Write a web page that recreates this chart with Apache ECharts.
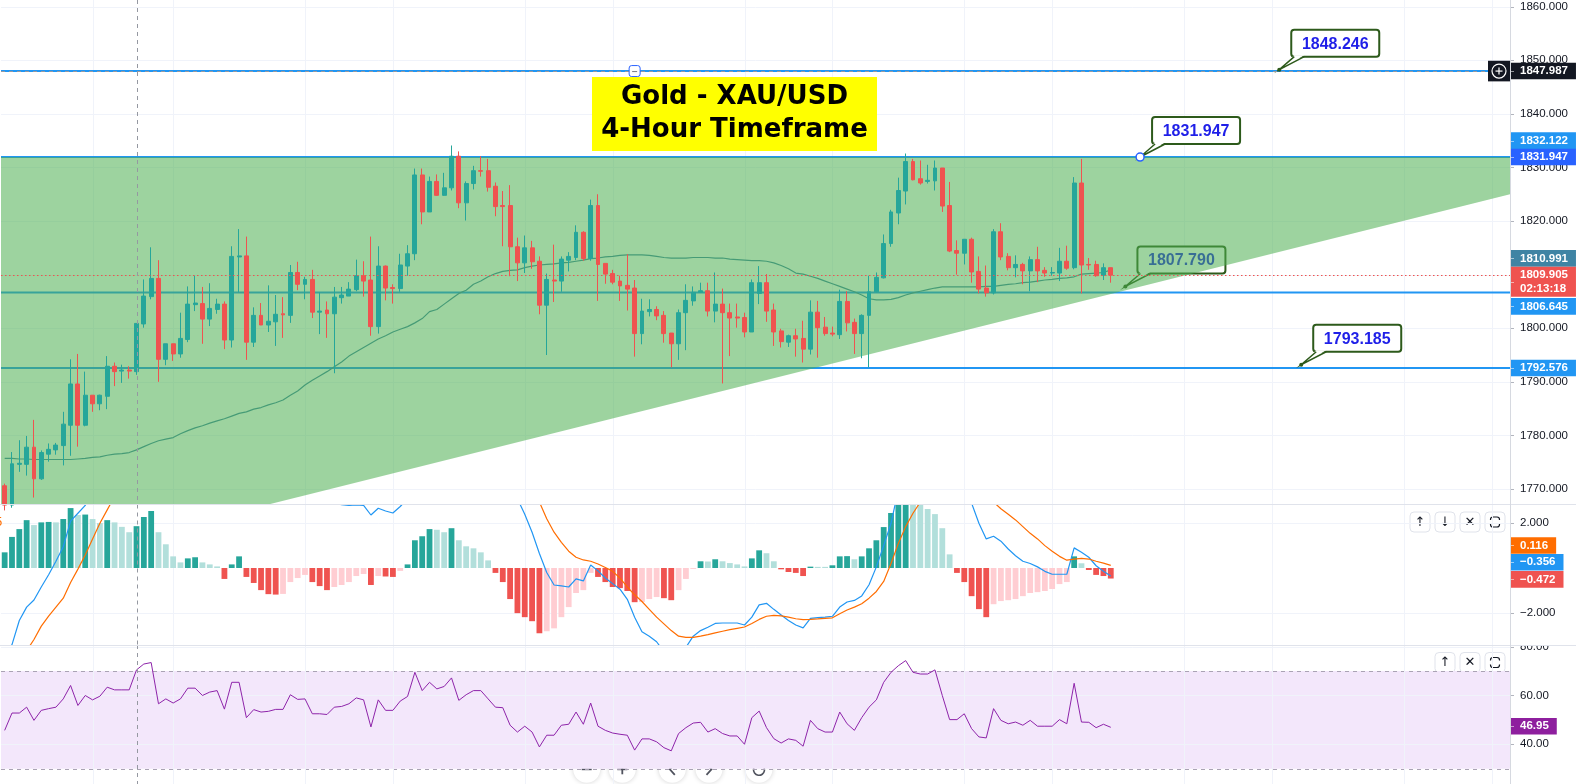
<!DOCTYPE html>
<html>
<head>
<meta charset="utf-8">
<title>Gold - XAU/USD 4-Hour Timeframe</title>
<script src="https://cdn.jsdelivr.net/npm/echarts@6.0.0/dist/echarts.min.js"></script>
<style>
  html, body { margin: 0; padding: 0; background: #ffffff; }
  #chart { width: 1576px; height: 784px; }
</style>
</head>
<body>
<div id="chart"></div>
<script>
// ---- data ----
// 4h candles, [open, close, low, high]
const candles = [
  [1770.6,1767.0,1766.0,1771.0],[1767.0,1774.7,1766.5,1776.9],[1774.6,1774.8,1773.2,1779.1],[1774.6,1777.8,1772.5,1779.9],[1777.8,1771.9,1768.4,1782.9],
  [1771.9,1776.8,1771.7,1777.2],[1776.5,1777.4,1775.1,1778.5],[1777.3,1778.2,1776.4,1778.6],[1778.1,1782.1,1774.4,1784.4],[1781.9,1789.6,1776.2,1794.2],
  [1789.6,1781.9,1777.9,1795.2],[1781.9,1787.5,1781.7,1791.9],[1787.5,1785.9,1784.4,1787.5],[1785.9,1787.5,1784.7,1787.6],[1787.3,1792.9,1784.9,1794.8],
  [1792.9,1791.9,1789.2,1793.6],[1792.0,1792.2,1789.8,1793.2],[1792.2,1792.0,1790.6,1792.9],[1791.9,1800.9,1791.3,1800.9],[1800.8,1806.0,1800.1,1809.1],
  [1805.9,1809.3,1805.4,1815.1],[1809.3,1794.2,1790.0,1812.7],[1794.2,1797.1,1793.1,1797.1],[1797.1,1795.2,1793.9,1797.1],[1795.2,1798.1,1794.5,1802.9],
  [1797.9,1804.5,1797.4,1807.8],[1804.4,1804.7,1803.2,1809.8],[1804.6,1801.7,1797.1,1807.7],[1801.7,1803.7,1800.4,1808.4],[1803.5,1804.5,1802.7,1805.5],
  [1804.5,1797.8,1796.1,1805.0],[1797.8,1813.4,1796.4,1815.3],[1813.3,1813.5,1806.7,1818.5],[1813.5,1797.4,1794.1,1817.1],[1797.4,1802.4,1796.5,1803.9],
  [1802.4,1800.6,1800.6,1804.7],[1800.6,1801.3,1799.3,1808.0],[1801.2,1802.6,1796.7,1806.2],[1802.7,1802.5,1798.2,1805.8],[1802.4,1810.4,1801.0,1811.8],
  [1810.4,1808.2,1807.1,1812.4],[1808.2,1809.1,1805.4,1809.6],[1809.1,1803.0,1801.9,1810.9],[1803.0,1803.2,1798.9,1806.7],[1803.4,1802.7,1798.2,1805.0],
  [1802.7,1805.8,1791.6,1807.7],[1805.7,1806.2,1804.6,1807.7],[1806.0,1807.3,1806.0,1808.6],[1807.2,1809.8,1806.9,1812.8],[1809.8,1808.8,1805.9,1812.5],
  [1809.0,1800.3,1798.6,1817.1],[1800.3,1811.6,1799.0,1815.3],[1811.6,1807.5,1805.2,1811.7],[1807.6,1807.4,1804.6,1808.2],[1807.4,1811.8,1806.8,1813.9],
  [1811.6,1813.9,1809.8,1815.5],[1813.9,1828.6,1812.7,1829.8],[1828.6,1821.7,1819.4,1829.8],[1821.7,1827.4,1821.7,1828.3],[1827.4,1824.8,1824.7,1828.7],
  [1824.8,1826.2,1824.7,1829.0],[1826.2,1832.1,1825.7,1834.1],[1832.1,1823.4,1822.4,1833.0],[1823.4,1827.0,1820.1,1827.4],[1827.0,1829.4,1825.9,1830.3],
  [1829.4,1829.3,1828.3,1832.1],[1829.4,1826.3,1825.5,1831.6],[1826.5,1822.7,1820.9,1827.2],[1822.9,1822.7,1815.3,1825.6],[1822.9,1815.2,1809.7,1826.7],
  [1815.2,1812.2,1808.8,1816.9],[1812.2,1815.0,1810.3,1817.3],[1815.0,1812.4,1811.1,1816.3],[1812.5,1804.3,1802.6,1813.4],[1804.3,1809.1,1795.0,1810.2],
  [1809.0,1808.8,1804.9,1815.6],[1808.8,1812.9,1806.8,1813.4],[1812.7,1813.4,1810.6,1814.2],[1813.2,1817.9,1812.7,1819.2],[1817.9,1813.0,1812.6,1818.1],
  [1813.0,1822.9,1812.6,1824.0],[1822.9,1811.9,1805.1,1825.0],[1812.1,1810.1,1808.3,1812.1],[1810.2,1808.6,1808.2,1810.9],[1808.8,1807.9,1805.1,1809.8],
  [1808.0,1807.3,1803.3,1813.8],[1807.5,1799.0,1794.7,1809.0],[1799.0,1803.2,1797.0,1805.5],[1803.1,1803.5,1802.2,1805.4],[1803.5,1802.3,1801.5,1804.1],
  [1802.4,1799.0,1797.3,1803.2],[1799.1,1797.1,1792.7,1799.1],[1797.1,1802.9,1794.1,1803.5],[1802.9,1805.2,1795.9,1808.2],[1805.1,1806.7,1804.2,1807.8],
  [1806.7,1807.0,1806.7,1808.5],[1807.0,1803.2,1802.2,1808.5],[1803.2,1804.5,1801.1,1810.4],[1804.5,1802.9,1789.7,1807.4],[1802.9,1801.9,1794.8,1804.6],
  [1802.1,1801.9,1800.1,1804.6],[1802.0,1799.3,1798.3,1802.9],[1799.3,1808.5,1799.3,1809.1],[1806.5,1808.5,1804.5,1811.6],[1808.5,1803.2,1801.2,1810.1],
  [1803.4,1799.3,1796.7,1804.6],[1799.5,1797.5,1796.4,1799.9],[1797.4,1798.6,1796.5,1798.8],[1798.6,1798.0,1794.7,1799.9],[1798.1,1796.1,1793.6,1801.4],
  [1796.1,1803.0,1795.1,1805.2],[1803.0,1800.1,1794.5,1805.1],[1800.2,1799.0,1798.6,1802.1],[1799.1,1798.9,1798.5,1800.3],[1798.8,1805.0,1798.0,1807.2],
  [1805.0,1801.0,1799.4,1806.9],[1801.1,1799.0,1795.2,1801.8],[1799.0,1802.4,1794.4,1802.6],[1802.4,1806.8,1792.7,1809.8],[1806.8,1809.5,1806.7,1810.4],
  [1809.4,1815.8,1809.3,1817.5],[1815.8,1821.7,1815.2,1822.1],[1821.5,1825.7,1819.4,1828.1],[1825.6,1831.1,1823.1,1832.6],[1831.1,1827.7,1827.6,1831.6],
  [1827.9,1827.1,1826.8,1831.3],[1827.4,1827.6,1827.0,1830.5],[1827.5,1829.9,1825.7,1831.3],[1829.9,1822.8,1821.7,1829.9],[1822.9,1814.4,1814.2,1827.3],
  [1814.5,1814.0,1810.0,1816.4],[1814.0,1816.6,1811.9,1816.6],[1816.6,1810.5,1808.5,1816.9],[1810.6,1807.3,1806.5,1813.4],[1807.5,1806.6,1805.9,1811.7],
  [1806.6,1818.0,1806.3,1818.5],[1818.0,1813.3,1812.7,1819.6],[1813.4,1811.3,1810.8,1814.0],[1811.3,1811.9,1809.5,1813.6],[1811.9,1810.7,1808.2,1812.2],
  [1810.7,1812.8,1806.9,1813.4],[1812.8,1810.7,1808.6,1815.2],[1810.8,1810.3,1809.6,1811.4],[1810.3,1810.4,1809.8,1811.4],[1810.3,1812.5,1808.8,1815.0],
  [1812.5,1811.2,1810.9,1815.4],[1811.3,1827.1,1811.0,1828.2],[1827.1,1811.8,1806.5,1831.6],[1811.9,1811.8,1810.9,1813.1],[1811.9,1809.8,1809.6,1812.6],
  [1809.9,1811.3,1809.0,1812.1],[1811.3,1809.905,1808.5,1811.3]
];

// moving average drawn on the price pane
const movingAvg = [
  1775.7,1775.7,1775.6,1775.6,1775.5,1775.5,1775.5,1775.5,1775.5,1775.5,
  1775.6,1775.7,1775.9,1776.0,1776.3,1776.5,1776.6,1776.8,1777.3,1777.9,
  1778.5,1779.0,1779.3,1779.6,1780.3,1780.9,1781.4,1781.8,1782.3,1782.7,
  1783.1,1783.6,1784.1,1784.4,1784.9,1785.2,1785.7,1786.1,1786.6,1787.5,
  1788.3,1789.4,1790.3,1791.1,1791.9,1792.8,1793.7,1794.8,1795.6,1796.4,
  1797.2,1798.0,1798.6,1799.3,1799.8,1800.3,1801.0,1801.8,1803.1,1803.5,
  1804.5,1805.5,1806.5,1807.1,1808.2,1808.8,1809.6,1810.2,1810.6,1810.8,
  1810.9,1811.3,1811.6,1811.8,1811.9,1812.0,1812.2,1812.3,1812.5,1812.7,
  1813.0,1813.1,1813.3,1813.4,1813.6,1813.7,1813.7,1813.7,1813.6,1813.4,
  1813.2,1813.1,1813.1,1813.1,1813.2,1813.2,1813.2,1813.1,1813.1,1812.9,
  1812.8,1812.7,1812.6,1812.6,1812.5,1812.2,1811.7,1811.1,1810.3,1810.1,
  1809.7,1809.3,1808.8,1808.3,1807.8,1807.3,1806.8,1806.2,1805.5,1805.3,
  1805.3,1805.4,1805.7,1806.2,1806.6,1806.9,1807.2,1807.5,1807.7,1807.7,
  1807.7,1807.7,1807.7,1807.7,1807.8,1807.8,1808.0,1808.2,1808.3,1808.5,
  1808.6,1808.8,1809.0,1809.1,1809.3,1809.4,1809.6,1810.1,1810.2,1810.3,
  1810.4,1810.9
];

// MACD pane
const macdHist = [
  0.70,1.39,1.74,2.14,1.92,2.04,2.06,2.04,2.19,2.68,
  2.37,2.39,2.19,2.01,2.14,2.04,1.84,1.60,1.87,2.28,
  2.55,1.60,1.06,0.52,0.25,0.43,0.48,0.25,0.16,0.07,
  -0.49,0.16,0.52,-0.40,-0.67,-0.99,-1.17,-1.19,-1.16,-0.63,
  -0.45,-0.31,-0.63,-0.81,-0.99,-0.85,-0.76,-0.63,-0.36,-0.27,
  -0.76,-0.36,-0.38,-0.40,-0.13,0.16,1.24,1.42,1.74,1.71,
  1.60,1.78,1.24,0.97,0.88,0.70,0.34,-0.22,-0.63,-1.39,
  -2.02,-2.20,-2.38,-2.92,-2.83,-2.70,-2.20,-1.75,-1.12,-0.99,
  -0.22,-0.40,-0.63,-0.85,-0.90,-1.03,-1.53,-1.52,-1.39,-1.30,
  -1.35,-1.44,-0.99,-0.49,-0.04,0.30,0.29,0.39,0.30,0.22,
  0.16,0.07,0.43,0.79,0.66,0.30,-0.06,-0.18,-0.22,-0.36,
  0.06,0.05,0.05,0.12,0.52,0.53,0.39,0.52,0.88,1.24,
  1.83,2.46,3.05,3.35,3.25,2.95,2.64,2.41,1.78,0.61,
  -0.22,-0.63,-1.26,-1.84,-2.20,-1.62,-1.48,-1.44,-1.39,-1.26,
  -1.12,-1.08,-1.03,-0.94,-0.72,-0.63,0.52,0.21,-0.09,-0.31,
  -0.36,-0.472
];
const macdLine = [
  -3.9,-3.43,-2.35,-1.75,-1.43,-0.85,-0.3,0.3,0.95,2.1,
  2.45,2.8,3.5,4.0,4.75,5.25,5.45,5.55,6.15,7.0,
  7.65,7.0,6.6,6.1,5.9,6.1,6.2,5.95,5.85,5.75,
  5.05,5.65,5.95,4.95,4.55,4.0,3.7,3.5,3.4,3.8,
  3.9,3.95,3.45,3.15,3.05,2.9,2.83,2.8,2.82,2.8,
  2.37,2.67,2.55,2.46,2.75,3.1,4.4,4.85,5.55,5.8,
  6.0,6.5,6.2,6.05,6.1,6.0,5.65,5.05,4.45,3.4,
  3.1,2.4,1.6,0.65,-0.2,-0.76,-0.8,-0.85,-0.49,-0.58,
  0.13,-0.13,-0.45,-0.7,-0.95,-1.4,-2.2,-2.85,-3.05,-3.3,
  -3.75,-4.2,-4.0,-3.55,-3.05,-2.8,-2.65,-2.48,-2.46,-2.46,
  -2.46,-2.55,-2.2,-1.65,-1.58,-1.85,-2.1,-2.35,-2.55,-2.68,
  -2.25,-2.22,-2.2,-2.16,-1.75,-1.52,-1.45,-1.25,-0.75,0.05,
  1.0,2.0,3.5,5.2,5.7,5.9,5.85,5.8,5.3,4.4,
  3.6,3.2,2.9,2.0,1.3,1.42,1.2,0.85,0.55,0.3,
  0.2,0.05,-0.15,-0.28,-0.28,-0.28,0.9,0.7,0.48,0.1,
  -0.15,-0.356
];
const signalLine = [
  -4.9,-4.5,-4.1,-3.7,-3.2,-2.6,-2.15,-1.75,-1.35,-0.65,
  -0.05,0.58,1.3,2.0,2.6,3.2,3.6,3.95,4.3,4.7,
  5.1,5.4,5.55,5.6,5.62,5.65,5.7,5.7,5.7,5.68,
  5.55,5.5,5.45,5.35,5.2,5.0,4.85,4.7,4.55,4.45,
  4.35,4.25,4.1,3.95,3.9,3.75,3.6,3.45,3.2,3.1,
  3.05,2.98,2.95,2.84,2.87,2.95,3.15,3.45,3.8,4.1,
  4.4,4.7,4.95,5.1,5.2,5.3,5.3,5.25,5.1,4.8,
  4.4,3.95,3.45,2.95,2.2,1.6,1.15,0.75,0.48,0.36,
  0.3,0.18,0.02,-0.15,-0.45,-0.85,-1.2,-1.5,-1.85,-2.2,
  -2.5,-2.8,-3.05,-3.1,-3.1,-3.05,-2.98,-2.9,-2.83,-2.76,
  -2.7,-2.64,-2.48,-2.3,-2.16,-2.12,-2.14,-2.2,-2.27,-2.31,
  -2.3,-2.28,-2.25,-2.23,-2.05,-1.88,-1.75,-1.6,-1.35,-1.05,
  -0.6,0.2,1.1,1.85,2.45,2.95,3.2,3.4,3.5,3.55,
  3.55,3.5,3.4,3.25,3.1,2.95,2.65,2.4,2.15,1.85,
  1.55,1.3,1.0,0.75,0.52,0.35,0.4,0.43,0.4,0.3,
  0.22,0.116
];

// RSI pane
const rsiLine = [
  45.7,52.8,52.8,55.2,49.8,53.9,54.6,55.2,58.6,64.1,
  55.9,60.0,58.2,59.7,63.4,62.3,62.3,62.3,70.5,72.9,
  73.5,56.6,58.6,56.9,58.6,63.0,63.0,60.0,61.4,62.0,
  54.4,65.4,65.4,50.9,54.2,53.2,53.5,54.3,54.3,60.3,
  58.4,58.6,52.5,52.5,52.2,55.2,55.5,56.6,59.0,58.2,
  47.1,58.2,53.9,53.9,57.7,59.6,69.5,62.0,65.4,62.7,
  63.7,67.2,58.0,60.3,62.0,62.0,58.6,55.2,55.0,47.8,
  45.0,47.4,45.0,38.9,43.7,43.7,47.8,48.2,53.2,48.2,
  56.9,47.4,45.7,44.6,44.1,43.7,37.6,42.2,42.2,41.0,
  38.6,37.3,44.4,46.8,48.7,49.0,45.0,46.4,44.4,43.4,
  43.4,40.0,50.9,53.6,46.8,42.3,40.5,42.2,41.6,39.2,
  49.8,46.4,45.0,45.0,53.2,48.4,45.7,50.9,55.2,58.2,
  65.4,69.5,72.2,74.3,69.5,68.8,68.8,70.5,60.0,50.1,
  50.1,52.5,46.4,43.0,42.6,54.6,49.8,48.4,49.1,47.8,
  49.8,47.4,47.4,47.4,50.1,48.4,65.0,49.1,49.0,46.8,
  48.2,46.95
];
const rsiBand = [30, 70];

// scale ticks
const priceTicks = [1770, 1780, 1790, 1800, 1810, 1820, 1830, 1840, 1850, 1860];
const macdTicks = [2, -2];
const rsiTicks = [80, 60, 40];
const dayLines = [12, 23, 41, 53, 71, 83, 101, 113, 131, 143, 161, 173, 191, 203];

// drawings: horizontal levels, ascending triangle, callouts
const levelLines = [1847.987, 1831.947, 1806.645, 1792.576];
const triangleTop = 1831.947;
const trendLine = [[-5, 1753.1], [211, 1826.9]];
const callouts = [[174, 1848.246], [155, 1831.947], [153, 1807.790], [177, 1793.185]];
const lineHandle = [86, 1847.987];
const crossIndex = 18;
const crossPrice = 1847.987;
const lastPrice = 1809.905;
const barCountdown = '02:13:18';

// price scale badges
const priceBadges = [1847.987, 1832.122, 1831.947, 1810.991, 1809.905, 1806.645, 1792.576];
const macdBadges = [0.116, -0.356, -0.472];
const rsiBadges = [46.95];

// ---- chart ----
const UP = '#26a69a', DOWN = '#ef5350';
const AXIS_FONT = '11.5px "Liberation Sans", Arial, sans-serif';
const BADGE_FONT = 'bold 11.5px "Liberation Sans", Arial, sans-serif';
const slots = Array.from({ length: 206 }, (_, i) => String(i));
const fmt = (v, d) => (v < 0 ? '\u2212' : '') + Math.abs(v).toFixed(d);

const priceBadgeLook = [
  { fill: '#131722', shift: 0 },
  { fill: '#2196f3', shift: -15.5 },
  { fill: '#2962ff', shift: 0 },
  { fill: '#3f84a4', shift: -11 },
  { fill: '#ef5350', shift: 6.6, countdown: true },
  { fill: '#2196f3', shift: 13.8 },
  { fill: '#2196f3', shift: 0 }
];
const macdBadgeLook = [
  { fill: '#ff6d00', shift: -19.9 },
  { fill: '#2196f3', shift: -13.7 },
  { fill: '#ef5350', shift: 0.8 }
];
const rsiBadgeLook = [{ fill: '#8e1f9e', shift: -1 }];

function hGrid(params, api) {
  const cs = params.coordSys;
  const y = Math.round(api.coord([0, api.value(1)])[1]) + 0.5;
  return { type: 'line', shape: { x1: cs.x, y1: y, x2: cs.x + cs.width, y2: y },
    style: { stroke: '#f0f3fa', lineWidth: 1 } };
}
function vGrid(params, api) {
  const cs = params.coordSys;
  const x = Math.round(api.coord([api.value(0), 0])[0]) + 0.5;
  return { type: 'line', shape: { x1: x, y1: cs.y, x2: x, y2: cs.y + cs.height },
    style: { stroke: '#f0f3fa', lineWidth: 1 } };
}
function crossV(params, api) {
  const cs = params.coordSys;
  const x = Math.round(api.coord([api.value(0), 0])[0]) + 0.5;
  return { type: 'line', shape: { x1: x, y1: cs.y, x2: x, y2: cs.y + cs.height },
    style: { stroke: '#9598a1', lineWidth: 1, lineDash: [4, 4] } };
}
function tickLabels(decimals) {
  return function (params, api) {
    const cs = params.coordSys;
    const v = api.value(1);
    const y = api.coord([0, v])[1];
    const ax = cs.x + cs.width;
    const yy = Math.round(y) + 0.5;
    return {
      type: 'group',
      clipPath: { type: 'rect', shape: { x: ax, y: cs.y, width: 80, height: cs.height } },
      children: [
        { type: 'line', shape: { x1: ax, y1: yy, x2: ax + 4, y2: yy }, style: { stroke: '#b2b5be', lineWidth: 1 } },
        { type: 'text', style: { x: ax + 10, y: y, text: fmt(v, decimals), font: AXIS_FONT, fill: '#131722',
          align: 'left', verticalAlign: 'middle', textAlign: 'left', textVerticalAlign: 'middle' } }
      ]
    };
  };
}
function badges(looks, decimals) {
  return function (params, api) {
    const cs = params.coordSys;
    const ax = cs.x + cs.width;
    const v = api.value(1);
    const look = looks[params.dataIndex];
    const y = api.coord([0, v])[1] + look.shift;
    const two = !!look.countdown;
    const text = two ? fmt(v, decimals) + '\n' + barCountdown : fmt(v, decimals);
    return {
      type: 'group',
      children: [
        { type: 'text', style: { x: ax, y: y, text: text, font: BADGE_FONT, fill: '#ffffff',
          align: 'left', verticalAlign: 'middle', textAlign: 'left', textVerticalAlign: 'middle',
          lineHeight: two ? 14.5 : 13, backgroundColor: look.fill,
          padding: two ? [0.5, 8, 0.5, 10] : [2, 8, 1.6, 10] } },
        { type: 'line', shape: { x1: ax, y1: Math.round(y) + 0.5, x2: ax + 4, y2: Math.round(y) + 0.5 },
          style: { stroke: 'rgba(255,255,255,0.55)', lineWidth: 1 } }
      ]
    };
  };
}
function renderLevel(params, api) {
  const cs = params.coordSys;
  const y = api.coord([0, api.value(1)])[1];
  return { type: 'line', shape: { x1: cs.x, y1: y, x2: cs.x + cs.width, y2: y },
    style: { stroke: '#2196f3', lineWidth: 2 } };
}
function renderCallout(params, api) {
  const p = api.coord([api.value(0), api.value(1)]);
  const bx = p[0] + 12, by = p[1] - 40, bw = 88, bh = 27;
  const ink = '#2d5a1b';
  return {
    type: 'group',
    children: [
      { type: 'rect', shape: { x: bx, y: by, width: bw, height: bh, r: 3 }, style: { fill: '#ffffff', stroke: ink, lineWidth: 2 } },
      { type: 'polygon', shape: { points: [[p[0], p[1]], [bx + 3, by + bh - 1.5], [bx + 13, by + bh - 1.5]] }, style: { fill: '#ffffff' } },
      { type: 'polyline', shape: { points: [[bx + 3, by + bh], [p[0], p[1]], [bx + 13, by + bh]] }, style: { stroke: ink, lineWidth: 1.5, fill: null } },
      { type: 'circle', shape: { cx: p[0], cy: p[1], r: 2 }, style: { fill: ink } },
      { type: 'text', style: { x: bx + bw / 2, y: by + bh / 2 + 1, text: api.value(1).toFixed(3),
        font: 'bold 16px "Liberation Sans", Arial, sans-serif', fill: '#1f1fe8',
        align: 'center', verticalAlign: 'middle', textAlign: 'center', textVerticalAlign: 'middle' } }
    ]
  };
}
function renderTriangle(params, api) {
  const cs = params.coordSys;
  const a = api.coord([trendLine[0][0], triangleTop]);
  const b = api.coord([trendLine[1][0], triangleTop]);
  const c = api.coord(trendLine[1]);
  const d = api.coord(trendLine[0]);
  return {
    type: 'group',
    clipPath: { type: 'rect', shape: { x: cs.x, y: cs.y, width: cs.width, height: cs.height } },
    children: [{ type: 'polygon', shape: { points: [a, b, c, d] }, style: { fill: 'rgba(76,175,80,0.55)' } }]
  };
}
function renderPriceOverlay(params, api) {
  const cs = params.coordSys;
  const yl = Math.round(api.coord([0, lastPrice])[1]) + 0.5;
  const yc = Math.round(api.coord([0, crossPrice])[1]) + 0.5;
  const x = Math.round(api.coord([crossIndex, 0])[0]) + 0.5;
  return {
    type: 'group',
    children: [
      { type: 'line', shape: { x1: cs.x, y1: yl, x2: cs.x + cs.width, y2: yl }, style: { stroke: '#ef5350', lineWidth: 1, lineDash: [1.5, 2.5] } },
      { type: 'line', shape: { x1: cs.x, y1: yc, x2: cs.x + cs.width, y2: yc }, style: { stroke: '#9598a1', lineWidth: 1, lineDash: [4, 4] } },
      { type: 'line', shape: { x1: x, y1: cs.y, x2: x, y2: cs.y + cs.height }, style: { stroke: '#9598a1', lineWidth: 1, lineDash: [4, 4] } }
    ]
  };
}
function renderHandles(params, api) {
  const sq = api.coord(lineHandle);
  const ci = api.coord(callouts[1]);
  return {
    type: 'group',
    children: [
      { type: 'rect', shape: { x: sq[0] - 5.5, y: sq[1] - 5.5, width: 11, height: 11, r: 2.5 }, style: { fill: '#ffffff', stroke: '#2962ff', lineWidth: 1 } },
      { type: 'line', shape: { x1: sq[0] - 2.5, y1: sq[1] + 0.5, x2: sq[0] + 2.5, y2: sq[1] + 0.5 }, style: { stroke: '#787b86', lineWidth: 1 } },
      { type: 'circle', shape: { cx: ci[0], cy: ci[1], r: 4 }, style: { fill: '#ffffff', stroke: '#2962ff', lineWidth: 1.5 } }
    ]
  };
}
function renderCrossBadge(params, api) {
  const cs = params.coordSys;
  const ax = cs.x + cs.width;
  const y = api.coord([0, crossPrice])[1];
  return {
    type: 'group',
    children: [
      { type: 'rect', shape: { x: ax - 22, y: y - 10.3, width: 22, height: 20.6 }, style: { fill: '#131722' } },
      { type: 'circle', shape: { cx: ax - 11, cy: y, r: 7 }, style: { fill: null, stroke: '#ffffff', lineWidth: 1.2 } },
      { type: 'line', shape: { x1: ax - 14.5, y1: y, x2: ax - 7.5, y2: y }, style: { stroke: '#ffffff', lineWidth: 1.2 } },
      { type: 'line', shape: { x1: ax - 11, y1: y - 3.5, x2: ax - 11, y2: y + 3.5 }, style: { stroke: '#ffffff', lineWidth: 1.2 } }
    ]
  };
}
function renderRsiBand(params, api) {
  const cs = params.coordSys;
  const y0 = api.coord([0, rsiBand[1]])[1];
  const y1 = api.coord([0, rsiBand[0]])[1];
  const r0 = Math.round(y0) + 0.5, r1 = Math.round(y1) + 0.5;
  return {
    type: 'group',
    children: [
      { type: 'rect', shape: { x: cs.x, y: y0, width: cs.width, height: y1 - y0 }, style: { fill: '#f3e7fb' } },
      { type: 'line', shape: { x1: cs.x, y1: r0, x2: cs.x + cs.width, y2: r0 }, style: { stroke: '#aaa3b4', lineWidth: 1, lineDash: [4, 4] } },
      { type: 'line', shape: { x1: cs.x, y1: r1, x2: cs.x + cs.width, y2: r1 }, style: { stroke: '#aaa3b4', lineWidth: 1, lineDash: [4, 4] } }
    ]
  };
}

function custom(pane, z, data, renderItem, clip) {
  return { type: 'custom', xAxisIndex: pane, yAxisIndex: pane, z: z, silent: true, clip: !!clip,
    encode: { x: 0, y: 1 }, data: data, renderItem: renderItem };
}

const histColors = macdHist.map((v, i) => {
  const prev = i > 0 ? macdHist[i - 1] : -Infinity;
  if (v >= 0) return v > prev ? '#26a69a' : '#b2dfdb';
  return v < prev ? '#ef5350' : '#ffcdd2';
});

// pane buttons and navigation (chart UI)
function paneButton(x, y, glyph) {
  const kids = [{ type: 'rect', shape: { x: x, y: y, width: 20, height: 20, r: 4 }, style: { fill: '#ffffff', stroke: '#e0e3eb', lineWidth: 1 } }];
  if (glyph === 'max') {
    kids.push({ type: 'rect', shape: { x: x + 5.5, y: y + 5, width: 9, height: 10, r: 2.5 }, style: { fill: null, stroke: '#131722', lineWidth: 1.2 } });
    kids.push({ type: 'rect', shape: { x: x + 4, y: y + 8, width: 12, height: 4 }, style: { fill: '#ffffff' } });
  } else {
    kids.push({ type: 'text', x: x + 10, y: y + 10.5, style: { text: glyph, font: '13px "DejaVu Sans", sans-serif', fill: '#131722',
      align: 'center', verticalAlign: 'middle', textAlign: 'center', textVerticalAlign: 'middle' } });
  }
  return { type: 'group', z: 100, children: kids };
}
function navButton(cx, cy, kind) {
  const g = '#50535e';
  const kids = [{ type: 'circle', shape: { cx: cx, cy: cy, r: 13.5 }, style: { fill: '#ffffff', shadowBlur: 5, shadowColor: 'rgba(0,0,0,0.18)' } }];
  if (kind === 'minus' || kind === 'plus') {
    kids.push({ type: 'line', shape: { x1: cx - 5, y1: cy, x2: cx + 5, y2: cy }, style: { stroke: g, lineWidth: 1.8 } });
    if (kind === 'plus') kids.push({ type: 'line', shape: { x1: cx, y1: cy - 5, x2: cx, y2: cy + 5 }, style: { stroke: g, lineWidth: 1.8 } });
  } else if (kind === 'left' || kind === 'right') {
    const s = kind === 'left' ? 1 : -1;
    kids.push({ type: 'polyline', shape: { points: [[cx + 2.5 * s, cy - 5.5], [cx - 2.5 * s, cy], [cx + 2.5 * s, cy + 5.5]] }, style: { stroke: g, lineWidth: 1.8, fill: null } });
  } else {
    kids.push({ type: 'arc', shape: { cx: cx, cy: cy + 0.5, r: 5.5, startAngle: -Math.PI * 0.45, endAngle: Math.PI * 1.25 }, style: { stroke: g, lineWidth: 1.6, fill: null } });
    kids.push({ type: 'polyline', shape: { points: [[cx - 4.5, cy - 7], [cx - 0.5, cy - 5], [cx - 3.5, cy - 1.5]] }, style: { stroke: g, lineWidth: 1.6, fill: null } });
  }
  return { type: 'group', z: 100, children: kids };
}

const chart = echarts.init(document.getElementById('chart'));
chart.setOption({
  animation: false,
  backgroundColor: '#ffffff',
  grid: [
    { left: 1, top: 0, width: 1509, height: 504 },
    { left: 1, top: 504.5, width: 1509, height: 140.5 },
    { left: 1, top: 645, width: 1509, height: 139 }
  ],
  xAxis: [0, 1, 2].map(i => ({ type: 'category', gridIndex: i, data: slots, boundaryGap: true, show: false })),
  yAxis: [
    { type: 'value', gridIndex: 0, min: 1767.2, max: 1861.25, show: false },
    { type: 'value', gridIndex: 1, min: -3.445, max: 2.84, show: false },
    { type: 'value', gridIndex: 2, min: 23.7, max: 80.7, show: false }
  ],
  graphic: [
    { type: 'line', z: 90, shape: { x1: 0, y1: 504.5, x2: 1576, y2: 504.5 }, style: { stroke: '#e0e3eb', lineWidth: 1 } },
    { type: 'line', z: 90, shape: { x1: 0, y1: 645.5, x2: 1576, y2: 645.5 }, style: { stroke: '#e0e3eb', lineWidth: 1 } },
    { type: 'line', z: 90, shape: { x1: 1510.5, y1: 0, x2: 1510.5, y2: 784 }, style: { stroke: '#d6d9e0', lineWidth: 1 } },
    { type: 'rect', z: 100, shape: { x: 592, y: 77, width: 285, height: 74 }, style: { fill: '#ffff00' } },
    { type: 'text', z: 101, x: 734.5, y: 114, style: { text: 'Gold - XAU/USD\n4-Hour Timeframe', font: 'bold 26px "DejaVu Sans", sans-serif',
      fill: '#000000', lineHeight: 33.3, align: 'center', verticalAlign: 'middle', textAlign: 'center', textVerticalAlign: 'middle' } },
    { type: 'text', z: 100, x: -5, y: 522, style: { text: '5', font: '13px "Liberation Sans", sans-serif', fill: '#ff6d00', verticalAlign: 'middle', textVerticalAlign: 'middle' } },
    paneButton(1410, 512, '\u2191'), paneButton(1435, 512, '\u2193'), paneButton(1460, 512, '\u2715'), paneButton(1485, 512, 'max'),
    paneButton(1435, 652.5, '\u2191'), paneButton(1460, 652.5, '\u2715'), paneButton(1485, 652.5, 'max'),
    navButton(586.7, 769.3, 'minus'), navButton(622.3, 769.3, 'plus'), navButton(672.3, 769.3, 'left'),
    navButton(709, 769.3, 'right'), navButton(759, 769.3, 'reset')
  ],
  series: [
    // price pane
    custom(0, 0, priceTicks.map(v => [0, v]), hGrid),
    custom(0, 0, dayLines.map(i => [i, 1800]), vGrid),
    custom(0, 1, levelLines.map(v => [0, v]), renderLevel),
    custom(0, 1, callouts, renderCallout),
    { type: 'line', xAxisIndex: 0, yAxisIndex: 0, z: 1, data: movingAvg, symbol: 'none', silent: true,
      lineStyle: { color: '#3f84a4', width: 1.2 } },
    custom(0, 3, [[0, triangleTop]], renderTriangle),
    { type: 'candlestick', xAxisIndex: 0, yAxisIndex: 0, z: 4, data: candles, barWidth: 4.4, silent: true,
      itemStyle: { color: UP, color0: DOWN, borderColor: UP, borderColor0: DOWN, borderWidth: 1 } },
    custom(0, 5, [[0, lastPrice]], renderPriceOverlay),
    custom(0, 7, [[0, crossPrice]], renderHandles),
    custom(0, 8, priceTicks.map(v => [0, v]), tickLabels(3)),
    custom(0, 9, priceBadges.map(v => [0, v]), badges(priceBadgeLook, 3)),
    custom(0, 9, [[0, crossPrice]], renderCrossBadge),
    // MACD pane
    custom(1, 0, macdTicks.map(v => [0, v]), hGrid),
    custom(1, 0, dayLines.map(i => [i, 0]), vGrid),
    { type: 'bar', xAxisIndex: 1, yAxisIndex: 1, z: 2, barWidth: 5.8, silent: true,
      data: macdHist.map((v, i) => ({ value: v, itemStyle: { color: histColors[i] } })) },
    { type: 'line', xAxisIndex: 1, yAxisIndex: 1, z: 3, data: macdLine, symbol: 'none', silent: true,
      lineStyle: { color: '#2196f3', width: 1.2 } },
    { type: 'line', xAxisIndex: 1, yAxisIndex: 1, z: 3, data: signalLine, symbol: 'none', silent: true,
      lineStyle: { color: '#ff6d00', width: 1.2 } },
    custom(1, 6, [[crossIndex, 0]], crossV),
    custom(1, 8, macdTicks.map(v => [0, v]), tickLabels(3)),
    custom(1, 9, macdBadges.map(v => [0, v]), badges(macdBadgeLook, 3)),
    // RSI pane
    custom(2, 0, [[0, 50]], renderRsiBand),
    custom(2, 1, rsiTicks.map(v => [0, v]), hGrid),
    custom(2, 1, dayLines.map(i => [i, 50]), vGrid),
    { type: 'line', xAxisIndex: 2, yAxisIndex: 2, z: 3, data: rsiLine, symbol: 'none', silent: true,
      lineStyle: { color: '#8e24aa', width: 1 } },
    custom(2, 6, [[crossIndex, 50]], crossV),
    custom(2, 8, rsiTicks.map(v => [0, v]), tickLabels(2)),
    custom(2, 9, rsiBadges.map(v => [0, v]), badges(rsiBadgeLook, 2))
  ]
});
</script>
</body>
</html>
